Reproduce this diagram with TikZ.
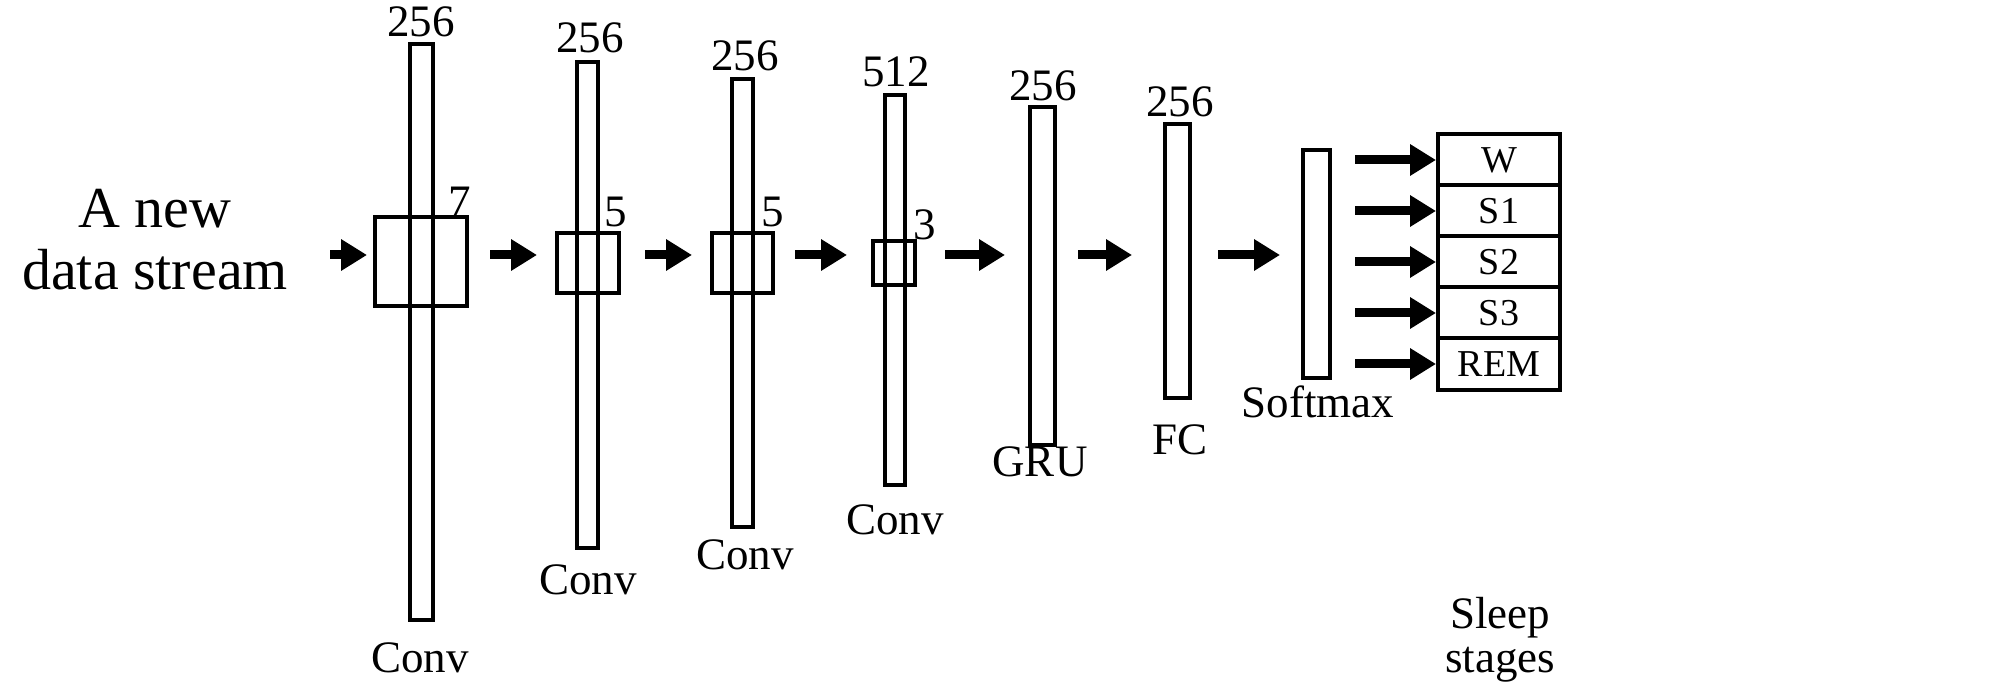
\documentclass[tikz,border=0pt]{standalone}
\usepackage{fontspec}
\setmainfont{Liberation Serif}
\usetikzlibrary{arrows.meta}
\begin{document}
\begin{tikzpicture}[x=1pt,y=-1pt,
  bar/.style={draw,line width=4pt},
  arr/.style={line width=9pt,-{Triangle[length=26pt,width=30pt]}},
  num/.style={font=\fontsize{45}{46}\selectfont,inner sep=0pt},
  lab/.style={font=\fontsize{44}{48}\selectfont,inner sep=0pt}]
\useasboundingbox (0,0) rectangle (2010,692);
\node[font=\fontsize{58}{62}\selectfont,align=center,inner sep=0pt] (txt) at (155,240) {A new\\data stream};
% bars
\node[bar,minimum width=23pt,minimum height=575pt,inner sep=0pt] (b1) at (421,332) {};
\node[bar,minimum width=92pt,minimum height=89pt] (s1) at (421,262) {};
\node[bar,minimum width=21pt,minimum height=486pt,inner sep=0pt] (b2) at (587,305) {};
\node[bar,minimum width=62pt,minimum height=60pt] (s2) at (588,263) {};
\node[bar,minimum width=21pt,minimum height=447pt,inner sep=0pt] (b3) at (742,303) {};
\node[bar,minimum width=61pt,minimum height=60pt] (s3) at (742,263) {};
\node[bar,minimum width=20pt,minimum height=390pt,inner sep=0pt] (b4) at (895,290) {};
\node[bar,minimum width=42pt,minimum height=44pt] (s4) at (894,263) {};
\node[bar,minimum width=25pt,minimum height=337pt,inner sep=0pt] (b5) at (1042,276) {};
\node[bar,minimum width=25pt,minimum height=273pt,inner sep=0pt] (b6) at (1177,261) {};
\node[bar,minimum width=27pt,minimum height=228pt,inner sep=0pt] (b7) at (1316,264) {};
% labels
\node[num] (n1) at (421,22) {256};
\node[num] (k1) at (460,202) {7};
\node[num] (c1) at (420,658) {Conv};
\node[num] (n2) at (590,38) {256};
\node[num] (k2) at (616,212) {5};
\node[num] (c2) at (588,580) {Conv};
\node[num] (n3) at (745,56) {256};
\node[num] (k3) at (773,212) {5};
\node[num] (c3) at (745,555) {Conv};
\node[num] (n4) at (896,72) {512};
\node[num] (k4) at (925,225) {3};
\node[num] (c4) at (895,520) {Conv};
\node[num] (n5) at (1043,86) {256};
\node[num] (c5) at (1040,462) {GRU};
\node[num] (n6) at (1180,102) {256};
\node[num] (c6) at (1180,440) {FC};
\node[num] (c7) at (1318,402) {Softmax};
% stages
\foreach \t/\y [count=\i] in {W/160,S1/211,S2/262,S3/313,REM/364}{
  \node[bar,minimum width=122pt,minimum height=51pt,inner sep=0pt,font=\fontsize{38}{40}\selectfont] (st\i) at (1499,\y) {\t};
  \coordinate (sa\i) at (1355,\y);
  \draw[arr] (sa\i) -- (st\i.west);
}
\node[num,align=center,font=\fontsize{45}{44}\selectfont] (ss) at (1500,640) {Sleep\\stages};
% arrows
\coordinate (a0) at (330,255);
\coordinate (a1) at (490,255);
\coordinate (a2) at (645,255);
\coordinate (a3) at (795,255);
\coordinate (a4) at (945,255);
\coordinate (a5) at (1078,255);
\coordinate (a6) at (1218,255);
\draw[arr] (a0) -- ++(37,0) coordinate (e0);
\draw[arr] (a1) -- ++(47,0) coordinate (e1);
\draw[arr] (a2) -- ++(47,0) coordinate (e2);
\draw[arr] (a3) -- ++(52,0) coordinate (e3);
\draw[arr] (a4) -- ++(60,0) coordinate (e4);
\draw[arr] (a5) -- ++(54,0) coordinate (e5);
\draw[arr] (a6) -- ++(62,0) coordinate (e6);
\end{tikzpicture}
\end{document}
